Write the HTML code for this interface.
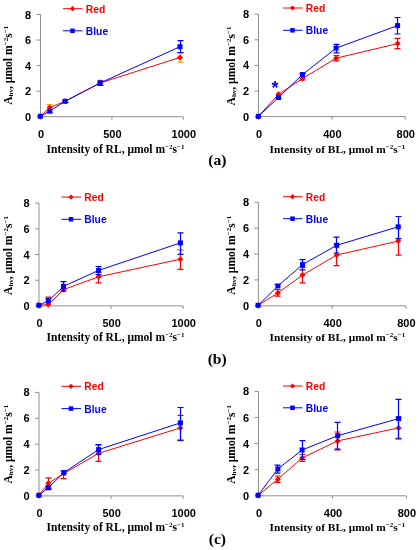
<!DOCTYPE html><html><head><meta charset="utf-8"><style>html,body{margin:0;padding:0;background:#fff;}svg{display:block;}.t{font-family:"Liberation Sans",Arial,sans-serif;font-weight:bold;font-size:11px;fill:#000;}.s{font-family:"Liberation Serif","Times New Roman",serif;font-weight:bold;fill:#000;}</style></head><body>
<svg width="420" height="550" viewBox="0 0 420 550">
<rect width="420" height="550" fill="#fff"/>
<path d="M40.5 14.5V116.7H183.3" fill="none" stroke="#8f8f8f" stroke-width="1"/>
<path d="M36.5 116.7H40.5M36.5 91.15H40.5M36.5 65.6H40.5M36.5 40.05H40.5M36.5 14.5H40.5M40.5 116.7V119.7M111.9 116.7V119.7M183.3 116.7V119.7" fill="none" stroke="#8f8f8f" stroke-width="1"/>
<text class="t" x="31.2" y="120.7" text-anchor="end">0</text>
<text class="t" x="31.2" y="95.15" text-anchor="end">2</text>
<text class="t" x="31.2" y="69.6" text-anchor="end">4</text>
<text class="t" x="31.2" y="44.05" text-anchor="end">6</text>
<text class="t" x="31.2" y="18.5" text-anchor="end">8</text>
<text class="t" x="41" y="137.9" text-anchor="middle">0</text>
<text class="t" x="112.4" y="137.9" text-anchor="middle">500</text>
<text class="t" x="183.8" y="137.9" text-anchor="middle">1000</text>
<text class="s" x="46.6" y="152.8" font-size="11.55">Intensity of RL, μmol m<tspan font-size="7" dy="-3.8">−2</tspan><tspan dy="3.8">s</tspan><tspan font-size="7" dy="-3.8">−1</tspan></text>
<text class="s" transform="translate(12.3,65.3) rotate(-90)" text-anchor="middle" font-size="11.6">A<tspan font-size="7" dy="0.5">hv</tspan><tspan dy="-0.5">, μmol m</tspan><tspan font-size="7" dy="-4.4">−2</tspan><tspan dy="4.4">s</tspan><tspan font-size="7" dy="-4.4">−1</tspan></text>
<path d="M63 8.7H82.5" stroke="#ff0000" stroke-width="1"/>
<path d="M72.5 6.1l2.6 2.6l-2.6 2.6l-2.6 -2.6z" fill="#ff0000"/>
<path d="M63 30.8H82.5" stroke="#0000ff" stroke-width="1"/>
<rect x="70.25" y="28.55" width="4.5" height="4.5" fill="#0000ff"/>
<text class="t" x="85.8" y="12.6" style="fill:#ff0000;font-size:10.3px">Red</text>
<text class="t" x="85.8" y="34.7" style="fill:#0000ff;font-size:10.3px">Blue</text>
<polyline points="40.3,116.3 49.6,107.6 65,101.3 100.1,83 180,57.4" fill="none" stroke="#ff0000" stroke-width="1"/>
<polyline points="40.3,116.3 49.8,111.2 65,101.3 100.1,83 180,46.7" fill="none" stroke="#0000ff" stroke-width="1"/>
<path d="M49.5 107.6V104.5M46.5 104.5H52.5M100.5 83V80.4M97.5 80.4H103.5M180.5 57.4V52.6M177.5 52.6H183.5M180.5 57.4V62.1M177.5 62.1H183.5" fill="none" stroke="#ffa000" stroke-width="1.2"/>
<path d="M40.3 113.3l3 3l-3 3l-3 -3z" fill="#ff0000"/>
<path d="M49.6 104.6l3 3l-3 3l-3 -3z" fill="#ff0000"/>
<path d="M65 98.3l3 3l-3 3l-3 -3z" fill="#ff0000"/>
<path d="M100.1 80l3 3l-3 3l-3 -3z" fill="#ff0000"/>
<path d="M180 54.4l3 3l-3 3l-3 -3z" fill="#ff0000"/>
<path d="M49.5 111.2V112.5M46.5 112.5H52.5M65.5 101.3V102.5M62.5 102.5H68.5M100.5 83V81M97.5 81H103.5M100.5 83V85.3M97.5 85.3H103.5M180.5 46.7V40.7M177.5 40.7H183.5M180.5 46.7V52.6M177.5 52.6H183.5" fill="none" stroke="#0000ff" stroke-width="1.2"/>
<rect x="37.8" y="113.8" width="5" height="5" fill="#0000ff"/>
<rect x="47.3" y="108.7" width="5" height="5" fill="#0000ff"/>
<rect x="62.5" y="98.8" width="5" height="5" fill="#0000ff"/>
<rect x="97.6" y="80.5" width="5" height="5" fill="#0000ff"/>
<rect x="177.5" y="44.2" width="5" height="5" fill="#0000ff"/>
<path d="M258.5 14.2V116.6H405.2" fill="none" stroke="#8f8f8f" stroke-width="1"/>
<path d="M254.5 116.6H258.5M254.5 91H258.5M254.5 65.4H258.5M254.5 39.8H258.5M254.5 14.2H258.5M258.5 116.6V119.6M331.85 116.6V119.6M405.2 116.6V119.6" fill="none" stroke="#8f8f8f" stroke-width="1"/>
<text class="t" x="249.2" y="120.6" text-anchor="end">0</text>
<text class="t" x="249.2" y="95" text-anchor="end">2</text>
<text class="t" x="249.2" y="69.4" text-anchor="end">4</text>
<text class="t" x="249.2" y="43.8" text-anchor="end">6</text>
<text class="t" x="249.2" y="18.2" text-anchor="end">8</text>
<text class="t" x="259" y="137.8" text-anchor="middle">0</text>
<text class="t" x="332.35" y="137.8" text-anchor="middle">400</text>
<text class="t" x="405.7" y="137.8" text-anchor="middle">800</text>
<text class="s" x="269.6" y="152.8" font-size="11.4">Intensity of BL, μmol m<tspan font-size="7" dy="-3.8">−2</tspan><tspan dy="3.8">s</tspan><tspan font-size="7" dy="-3.8">−1</tspan></text>
<text class="s" transform="translate(235.1,66) rotate(-90)" text-anchor="middle" font-size="11.6">A<tspan font-size="7" dy="0.5">hv</tspan><tspan dy="-0.5">, μmol m</tspan><tspan font-size="7" dy="-4.4">−2</tspan><tspan dy="4.4">s</tspan><tspan font-size="7" dy="-4.4">−1</tspan></text>
<path d="M283 8H302.5" stroke="#ff0000" stroke-width="1"/>
<path d="M292.5 5.4l2.6 2.6l-2.6 2.6l-2.6 -2.6z" fill="#ff0000"/>
<path d="M283 30.3H302.5" stroke="#0000ff" stroke-width="1"/>
<rect x="290.25" y="28.05" width="4.5" height="4.5" fill="#0000ff"/>
<text class="t" x="305.8" y="11.9" style="fill:#ff0000;font-size:10.3px">Red</text>
<text class="t" x="305.8" y="34.2" style="fill:#0000ff;font-size:10.3px">Blue</text>
<polyline points="258.3,116.4 278.5,94.3 302.5,78.6 336.1,58.2 397.6,43.6" fill="none" stroke="#ff0000" stroke-width="1"/>
<polyline points="258.3,116.4 278.5,97.5 302.5,74.6 336.1,48.1 397.6,25.6" fill="none" stroke="#0000ff" stroke-width="1"/>
<path d="M302.5 78.6V80M299.5 80H305.5M336.5 58.2V55.6M333.5 55.6H339.5M336.5 58.2V60.8M333.5 60.8H339.5M397.5 43.6V38.3M394.5 38.3H400.5M397.5 43.6V48.6M394.5 48.6H400.5" fill="none" stroke="#ff0000" stroke-width="1.2"/>
<path d="M258.3 113.4l3 3l-3 3l-3 -3z" fill="#ff0000"/>
<path d="M278.5 91.3l3 3l-3 3l-3 -3z" fill="#ff0000"/>
<path d="M302.5 75.6l3 3l-3 3l-3 -3z" fill="#ff0000"/>
<path d="M336.1 55.2l3 3l-3 3l-3 -3z" fill="#ff0000"/>
<path d="M397.6 40.6l3 3l-3 3l-3 -3z" fill="#ff0000"/>
<path d="M278.5 97.5V98.5M275.5 98.5H281.5M302.5 74.6V73.3M299.5 73.3H305.5M336.5 48.1V44.3M333.5 44.3H339.5M336.5 48.1V52.9M333.5 52.9H339.5M397.5 25.6V17.5M394.5 17.5H400.5M397.5 25.6V34M394.5 34H400.5" fill="none" stroke="#0000ff" stroke-width="1.2"/>
<rect x="255.8" y="113.9" width="5" height="5" fill="#0000ff"/>
<rect x="276" y="95" width="5" height="5" fill="#0000ff"/>
<rect x="300" y="72.1" width="5" height="5" fill="#0000ff"/>
<rect x="333.6" y="45.6" width="5" height="5" fill="#0000ff"/>
<rect x="395.1" y="23.1" width="5" height="5" fill="#0000ff"/>
<path d="M39 203.1V305.9H183.2" fill="none" stroke="#8f8f8f" stroke-width="1"/>
<path d="M35 305.9H39M35 280.2H39M35 254.5H39M35 228.8H39M35 203.1H39M39 305.9V308.9M111.1 305.9V308.9M183.2 305.9V308.9" fill="none" stroke="#8f8f8f" stroke-width="1"/>
<text class="t" x="29.7" y="309.9" text-anchor="end">0</text>
<text class="t" x="29.7" y="284.2" text-anchor="end">2</text>
<text class="t" x="29.7" y="258.5" text-anchor="end">4</text>
<text class="t" x="29.7" y="232.8" text-anchor="end">6</text>
<text class="t" x="29.7" y="207.1" text-anchor="end">8</text>
<text class="t" x="39.5" y="327.1" text-anchor="middle">0</text>
<text class="t" x="111.6" y="327.1" text-anchor="middle">500</text>
<text class="t" x="183.7" y="327.1" text-anchor="middle">1000</text>
<text class="s" x="46.6" y="341" font-size="11.55">Intensity of RL, μmol m<tspan font-size="7" dy="-3.8">−2</tspan><tspan dy="3.8">s</tspan><tspan font-size="7" dy="-3.8">−1</tspan></text>
<text class="s" transform="translate(12.3,255.5) rotate(-90)" text-anchor="middle" font-size="11.6">A<tspan font-size="7" dy="0.5">hv</tspan><tspan dy="-0.5">, μmol m</tspan><tspan font-size="7" dy="-4.4">−2</tspan><tspan dy="4.4">s</tspan><tspan font-size="7" dy="-4.4">−1</tspan></text>
<path d="M61.5 197.1H81" stroke="#ff0000" stroke-width="1"/>
<path d="M71 194.5l2.6 2.6l-2.6 2.6l-2.6 -2.6z" fill="#ff0000"/>
<path d="M61.5 219.3H81" stroke="#0000ff" stroke-width="1"/>
<rect x="68.75" y="217.05" width="4.5" height="4.5" fill="#0000ff"/>
<text class="t" x="84.3" y="201" style="fill:#ff0000;font-size:10.3px">Red</text>
<text class="t" x="84.3" y="223.2" style="fill:#0000ff;font-size:10.3px">Blue</text>
<polyline points="38.9,305.3 48.3,304.6 63.5,289.6 98.6,276.8 180.4,259.2" fill="none" stroke="#ff0000" stroke-width="1"/>
<polyline points="38.9,305.3 48.3,301 63.5,286.4 98.6,270.4 180.4,242.9" fill="none" stroke="#0000ff" stroke-width="1"/>
<path d="M48.5 304.6V297.1M45.5 297.1H51.5M98.5 276.8V272.5M95.5 272.5H101.5M98.5 276.8V282.8M95.5 282.8H101.5M180.5 259.2V250M177.5 250H183.5M180.5 259.2V269.3M177.5 269.3H183.5" fill="none" stroke="#ff0000" stroke-width="1.2"/>
<path d="M38.9 302.3l3 3l-3 3l-3 -3z" fill="#ff0000"/>
<path d="M48.3 301.6l3 3l-3 3l-3 -3z" fill="#ff0000"/>
<path d="M63.5 286.6l3 3l-3 3l-3 -3z" fill="#ff0000"/>
<path d="M98.6 273.8l3 3l-3 3l-3 -3z" fill="#ff0000"/>
<path d="M180.4 256.2l3 3l-3 3l-3 -3z" fill="#ff0000"/>
<path d="M48.5 301V298.5M45.5 298.5H51.5M63.5 286.4V281.7M60.5 281.7H66.5M63.5 286.4V291.1M60.5 291.1H66.5M98.5 270.4V266.5M95.5 266.5H101.5M98.5 270.4V274.6M95.5 274.6H101.5M180.5 242.9V232.9M177.5 232.9H183.5M180.5 242.9V254.3M177.5 254.3H183.5" fill="none" stroke="#0000ff" stroke-width="1.2"/>
<rect x="36.4" y="302.8" width="5" height="5" fill="#0000ff"/>
<rect x="45.8" y="298.5" width="5" height="5" fill="#0000ff"/>
<rect x="61" y="283.9" width="5" height="5" fill="#0000ff"/>
<rect x="96.1" y="267.9" width="5" height="5" fill="#0000ff"/>
<rect x="177.9" y="240.4" width="5" height="5" fill="#0000ff"/>
<path d="M258.4 202.3V305.8H405.9" fill="none" stroke="#8f8f8f" stroke-width="1"/>
<path d="M254.4 305.8H258.4M254.4 279.93H258.4M254.4 254.05H258.4M254.4 228.18H258.4M254.4 202.3H258.4M258.4 305.8V308.8M332.15 305.8V308.8M405.9 305.8V308.8" fill="none" stroke="#8f8f8f" stroke-width="1"/>
<text class="t" x="249.1" y="309.8" text-anchor="end">0</text>
<text class="t" x="249.1" y="283.93" text-anchor="end">2</text>
<text class="t" x="249.1" y="258.05" text-anchor="end">4</text>
<text class="t" x="249.1" y="232.18" text-anchor="end">6</text>
<text class="t" x="249.1" y="206.3" text-anchor="end">8</text>
<text class="t" x="258.9" y="327" text-anchor="middle">0</text>
<text class="t" x="332.65" y="327" text-anchor="middle">400</text>
<text class="t" x="406.4" y="327" text-anchor="middle">800</text>
<text class="s" x="269.6" y="341" font-size="11.4">Intensity of BL, μmol m<tspan font-size="7" dy="-3.8">−2</tspan><tspan dy="3.8">s</tspan><tspan font-size="7" dy="-3.8">−1</tspan></text>
<text class="s" transform="translate(235.1,255.25) rotate(-90)" text-anchor="middle" font-size="11.6">A<tspan font-size="7" dy="0.5">hv</tspan><tspan dy="-0.5">, μmol m</tspan><tspan font-size="7" dy="-4.4">−2</tspan><tspan dy="4.4">s</tspan><tspan font-size="7" dy="-4.4">−1</tspan></text>
<path d="M283 196.7H302.5" stroke="#ff0000" stroke-width="1"/>
<path d="M292.5 194.1l2.6 2.6l-2.6 2.6l-2.6 -2.6z" fill="#ff0000"/>
<path d="M283 218.7H302.5" stroke="#0000ff" stroke-width="1"/>
<rect x="290.25" y="216.45" width="4.5" height="4.5" fill="#0000ff"/>
<text class="t" x="305.8" y="200.6" style="fill:#ff0000;font-size:10.3px">Red</text>
<text class="t" x="305.8" y="222.6" style="fill:#0000ff;font-size:10.3px">Blue</text>
<polyline points="258.1,305.3 277.9,292.9 302.5,275.1 336.7,255 398.2,241.1" fill="none" stroke="#ff0000" stroke-width="1"/>
<polyline points="258.1,305.3 277.9,286 302.5,264.6 336.7,245.3 398.2,226.8" fill="none" stroke="#0000ff" stroke-width="1"/>
<path d="M277.5 292.9V289.6M274.5 289.6H280.5M277.5 292.9V296.1M274.5 296.1H280.5M302.5 275.1V267.5M299.5 267.5H305.5M302.5 275.1V282.8M299.5 282.8H305.5M336.5 255V244M333.5 244H339.5M336.5 255V265.7M333.5 265.7H339.5M398.5 241.1V227M395.5 227H401.5M398.5 241.1V255.1M395.5 255.1H401.5" fill="none" stroke="#ff0000" stroke-width="1.2"/>
<path d="M258.1 302.3l3 3l-3 3l-3 -3z" fill="#ff0000"/>
<path d="M277.9 289.9l3 3l-3 3l-3 -3z" fill="#ff0000"/>
<path d="M302.5 272.1l3 3l-3 3l-3 -3z" fill="#ff0000"/>
<path d="M336.7 252l3 3l-3 3l-3 -3z" fill="#ff0000"/>
<path d="M398.2 238.1l3 3l-3 3l-3 -3z" fill="#ff0000"/>
<path d="M277.5 286V284.5M274.5 284.5H280.5M302.5 264.6V259.6M299.5 259.6H305.5M302.5 264.6V269.9M299.5 269.9H305.5M336.5 245.3V237.1M333.5 237.1H339.5M336.5 245.3V253M333.5 253H339.5M398.5 226.8V216.5M395.5 216.5H401.5M398.5 226.8V238.6M395.5 238.6H401.5" fill="none" stroke="#0000ff" stroke-width="1.2"/>
<rect x="255.6" y="302.8" width="5" height="5" fill="#0000ff"/>
<rect x="275.4" y="283.5" width="5" height="5" fill="#0000ff"/>
<rect x="300" y="262.1" width="5" height="5" fill="#0000ff"/>
<rect x="334.2" y="242.8" width="5" height="5" fill="#0000ff"/>
<rect x="395.7" y="224.3" width="5" height="5" fill="#0000ff"/>
<path d="M39 392.4V495.9H183.2" fill="none" stroke="#8f8f8f" stroke-width="1"/>
<path d="M35 495.9H39M35 470.02H39M35 444.15H39M35 418.27H39M35 392.4H39M39 495.9V498.9M111.1 495.9V498.9M183.2 495.9V498.9" fill="none" stroke="#8f8f8f" stroke-width="1"/>
<text class="t" x="29.7" y="499.9" text-anchor="end">0</text>
<text class="t" x="29.7" y="474.02" text-anchor="end">2</text>
<text class="t" x="29.7" y="448.15" text-anchor="end">4</text>
<text class="t" x="29.7" y="422.27" text-anchor="end">6</text>
<text class="t" x="29.7" y="396.4" text-anchor="end">8</text>
<text class="t" x="39.5" y="517.1" text-anchor="middle">0</text>
<text class="t" x="111.6" y="517.1" text-anchor="middle">500</text>
<text class="t" x="183.7" y="517.1" text-anchor="middle">1000</text>
<text class="s" x="46.6" y="530.5" font-size="11.55">Intensity of RL, μmol m<tspan font-size="7" dy="-3.8">−2</tspan><tspan dy="3.8">s</tspan><tspan font-size="7" dy="-3.8">−1</tspan></text>
<text class="s" transform="translate(12.3,444.15) rotate(-90)" text-anchor="middle" font-size="11.6">A<tspan font-size="7" dy="0.5">hv</tspan><tspan dy="-0.5">, μmol m</tspan><tspan font-size="7" dy="-4.4">−2</tspan><tspan dy="4.4">s</tspan><tspan font-size="7" dy="-4.4">−1</tspan></text>
<path d="M61.5 386.3H81" stroke="#ff0000" stroke-width="1"/>
<path d="M71 383.7l2.6 2.6l-2.6 2.6l-2.6 -2.6z" fill="#ff0000"/>
<path d="M61.5 408.6H81" stroke="#0000ff" stroke-width="1"/>
<rect x="68.75" y="406.35" width="4.5" height="4.5" fill="#0000ff"/>
<text class="t" x="84.3" y="390.2" style="fill:#ff0000;font-size:10.3px">Red</text>
<text class="t" x="84.3" y="412.5" style="fill:#0000ff;font-size:10.3px">Blue</text>
<polyline points="38.9,495.3 48.3,483.3 63.9,473.5 98.6,453.3 180.4,427.9" fill="none" stroke="#ff0000" stroke-width="1"/>
<polyline points="38.9,495.3 48.3,487.8 63.9,472.6 98.6,449.6 180.4,422.9" fill="none" stroke="#0000ff" stroke-width="1"/>
<path d="M48.5 483.3V477.9M45.5 477.9H51.5M48.5 483.3V488.5M45.5 488.5H51.5M63.5 473.5V478.6M60.5 478.6H66.5M98.5 453.3V445M95.5 445H101.5M98.5 453.3V461.4M95.5 461.4H101.5M180.5 427.9V415.4M177.5 415.4H183.5M180.5 427.9V440.7M177.5 440.7H183.5" fill="none" stroke="#ff0000" stroke-width="1.2"/>
<path d="M38.9 492.3l3 3l-3 3l-3 -3z" fill="#ff0000"/>
<path d="M48.3 480.3l3 3l-3 3l-3 -3z" fill="#ff0000"/>
<path d="M63.9 470.5l3 3l-3 3l-3 -3z" fill="#ff0000"/>
<path d="M98.6 450.3l3 3l-3 3l-3 -3z" fill="#ff0000"/>
<path d="M180.4 424.9l3 3l-3 3l-3 -3z" fill="#ff0000"/>
<path d="M48.5 487.8V486M45.5 486H51.5M48.5 487.8V489.5M45.5 489.5H51.5M63.5 472.6V471M60.5 471H66.5M98.5 449.6V444.7M95.5 444.7H101.5M98.5 449.6V454.5M95.5 454.5H101.5M180.5 422.9V407.5M177.5 407.5H183.5M180.5 422.9V440.1M177.5 440.1H183.5" fill="none" stroke="#0000ff" stroke-width="1.2"/>
<rect x="36.4" y="492.8" width="5" height="5" fill="#0000ff"/>
<rect x="45.8" y="485.3" width="5" height="5" fill="#0000ff"/>
<rect x="61.4" y="470.1" width="5" height="5" fill="#0000ff"/>
<rect x="96.1" y="447.1" width="5" height="5" fill="#0000ff"/>
<rect x="177.9" y="420.4" width="5" height="5" fill="#0000ff"/>
<path d="M258.5 391.4V495.8H406.4" fill="none" stroke="#8f8f8f" stroke-width="1"/>
<path d="M254.5 495.8H258.5M254.5 469.7H258.5M254.5 443.6H258.5M254.5 417.5H258.5M254.5 391.4H258.5M258.5 495.8V498.8M332.45 495.8V498.8M406.4 495.8V498.8" fill="none" stroke="#8f8f8f" stroke-width="1"/>
<text class="t" x="249.2" y="499.8" text-anchor="end">0</text>
<text class="t" x="249.2" y="473.7" text-anchor="end">2</text>
<text class="t" x="249.2" y="447.6" text-anchor="end">4</text>
<text class="t" x="249.2" y="421.5" text-anchor="end">6</text>
<text class="t" x="249.2" y="395.4" text-anchor="end">8</text>
<text class="t" x="259" y="517" text-anchor="middle">0</text>
<text class="t" x="332.95" y="517" text-anchor="middle">400</text>
<text class="t" x="406.9" y="517" text-anchor="middle">800</text>
<text class="s" x="269.6" y="530.5" font-size="11.4">Intensity of BL, μmol m<tspan font-size="7" dy="-3.8">−2</tspan><tspan dy="3.8">s</tspan><tspan font-size="7" dy="-3.8">−1</tspan></text>
<text class="s" transform="translate(235.1,444.4) rotate(-90)" text-anchor="middle" font-size="11.6">A<tspan font-size="7" dy="0.5">hv</tspan><tspan dy="-0.5">, μmol m</tspan><tspan font-size="7" dy="-4.4">−2</tspan><tspan dy="4.4">s</tspan><tspan font-size="7" dy="-4.4">−1</tspan></text>
<path d="M283 386H302.5" stroke="#ff0000" stroke-width="1"/>
<path d="M292.5 383.4l2.6 2.6l-2.6 2.6l-2.6 -2.6z" fill="#ff0000"/>
<path d="M283 407.8H302.5" stroke="#0000ff" stroke-width="1"/>
<rect x="290.25" y="405.55" width="4.5" height="4.5" fill="#0000ff"/>
<text class="t" x="305.8" y="389.9" style="fill:#ff0000;font-size:10.3px">Red</text>
<text class="t" x="305.8" y="411.7" style="fill:#0000ff;font-size:10.3px">Blue</text>
<polyline points="258.1,495.3 277.9,479.2 302.1,458 337.7,440.9 398.6,427.9" fill="none" stroke="#ff0000" stroke-width="1"/>
<polyline points="258.1,495.3 277.9,468.9 302.1,450 337.7,435.7 398.6,418.6" fill="none" stroke="#0000ff" stroke-width="1"/>
<path d="M277.5 479.2V476M274.5 476H280.5M277.5 479.2V482.4M274.5 482.4H280.5M302.5 458V454.5M299.5 454.5H305.5M302.5 458V461.4M299.5 461.4H305.5M337.5 440.9V432M334.5 432H340.5M337.5 440.9V449.8M334.5 449.8H340.5M398.5 427.9V417.4M395.5 417.4H401.5M398.5 427.9V438.4M395.5 438.4H401.5" fill="none" stroke="#ff0000" stroke-width="1.2"/>
<path d="M258.1 492.3l3 3l-3 3l-3 -3z" fill="#ff0000"/>
<path d="M277.9 476.2l3 3l-3 3l-3 -3z" fill="#ff0000"/>
<path d="M302.1 455l3 3l-3 3l-3 -3z" fill="#ff0000"/>
<path d="M337.7 437.9l3 3l-3 3l-3 -3z" fill="#ff0000"/>
<path d="M398.6 424.9l3 3l-3 3l-3 -3z" fill="#ff0000"/>
<path d="M277.5 468.9V465.1M274.5 465.1H280.5M277.5 468.9V473.2M274.5 473.2H280.5M302.5 450V440.6M299.5 440.6H305.5M302.5 450V459.5M299.5 459.5H305.5M337.5 435.7V422.3M334.5 422.3H340.5M337.5 435.7V449.1M334.5 449.1H340.5M398.5 418.6V399.3M395.5 399.3H401.5M398.5 418.6V439M395.5 439H401.5" fill="none" stroke="#0000ff" stroke-width="1.2"/>
<rect x="255.6" y="492.8" width="5" height="5" fill="#0000ff"/>
<rect x="275.4" y="466.4" width="5" height="5" fill="#0000ff"/>
<rect x="299.6" y="447.5" width="5" height="5" fill="#0000ff"/>
<rect x="335.2" y="433.2" width="5" height="5" fill="#0000ff"/>
<rect x="396.1" y="416.1" width="5" height="5" fill="#0000ff"/>
<text x="275" y="93.6" text-anchor="middle" style="font-family:'Liberation Sans',Arial,sans-serif;font-weight:bold;font-size:18px;fill:#0000ff">*</text>
<text class="s" x="217.4" y="165.1" text-anchor="middle" font-size="15.6">(a)</text>
<text class="s" x="217.2" y="363.7" text-anchor="middle" font-size="15.6">(b)</text>
<text class="s" x="217.4" y="543.6" text-anchor="middle" font-size="15.6">(c)</text>
</svg></body></html>
